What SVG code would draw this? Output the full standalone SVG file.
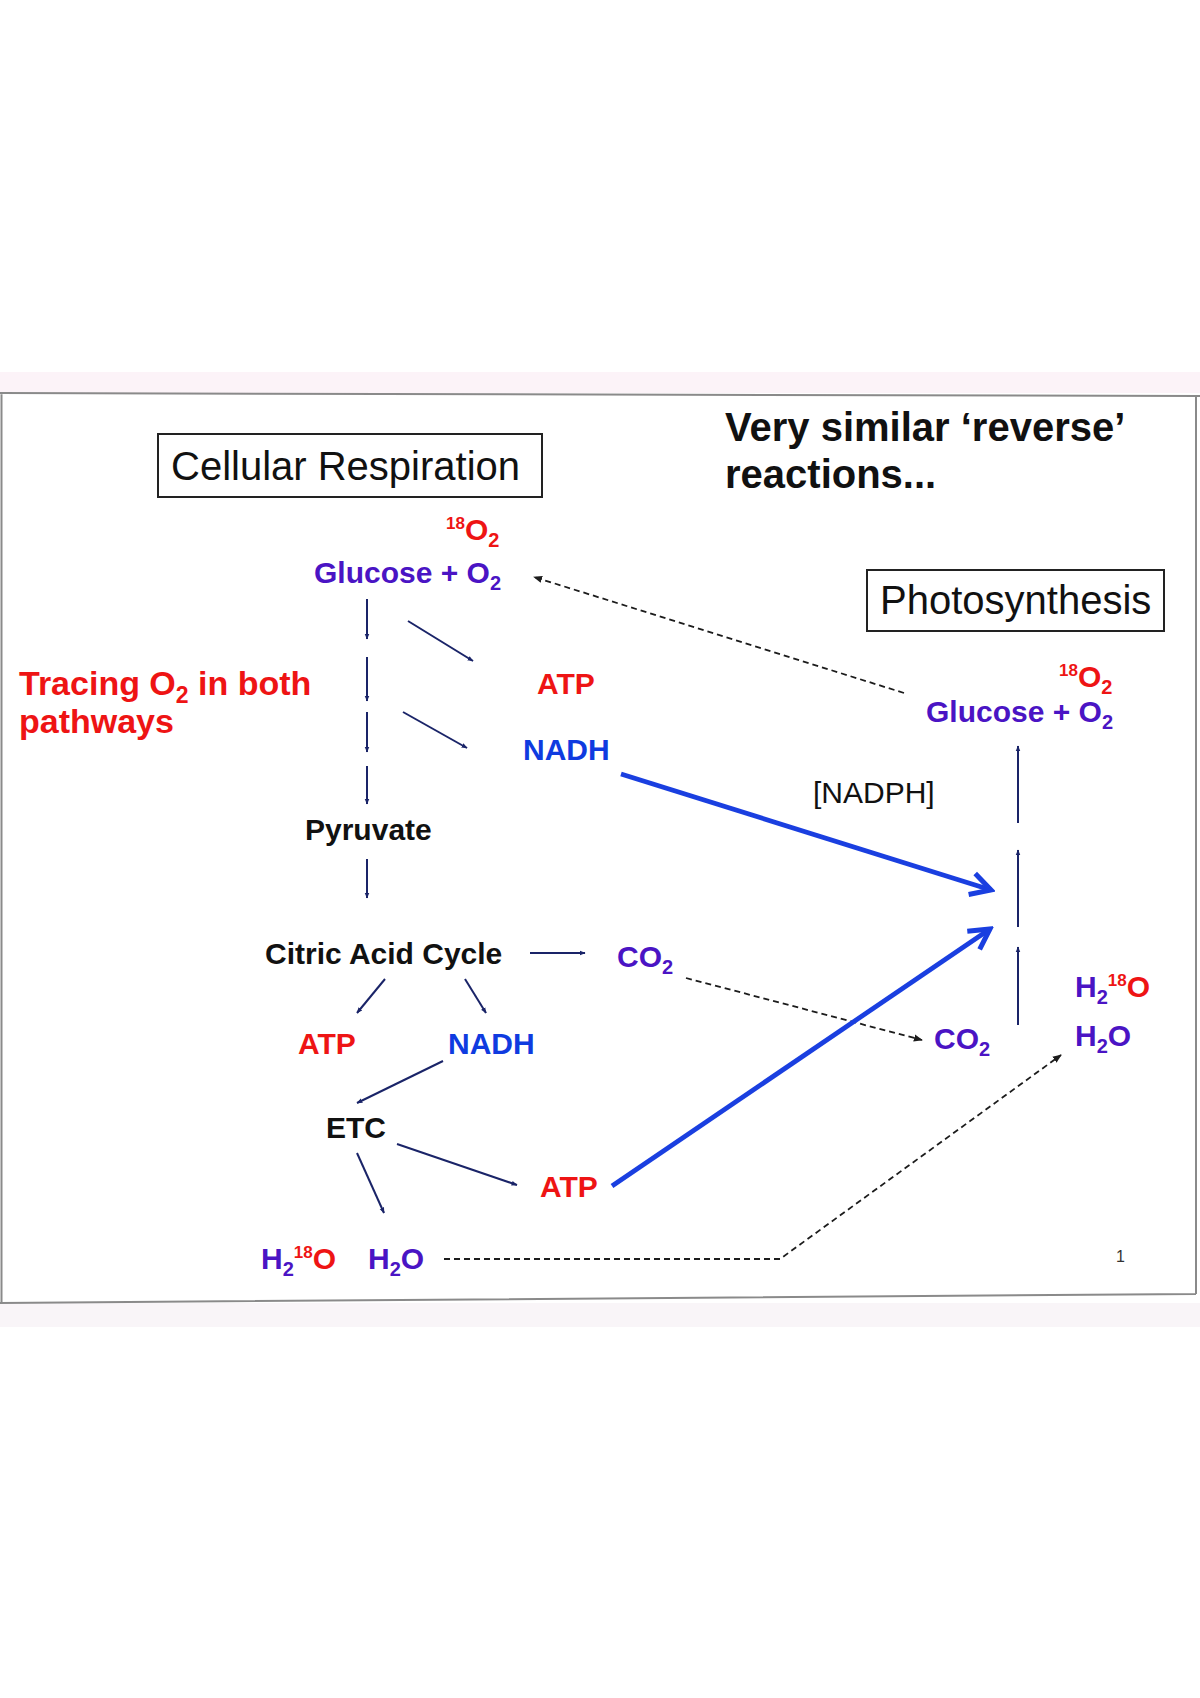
<svg xmlns="http://www.w3.org/2000/svg" width="1200" height="1698" viewBox="0 0 1200 1698">
<style>
text{font-family:"Liberation Sans",Arial,sans-serif}
.b{font-weight:bold}
.red{fill:#EE1414}
.pur{fill:#4A14C4}
.blu{fill:#0F3BE0}
.blk{fill:#111}
.thin{stroke:#1A2468;stroke-width:2;fill:none}
.dash{stroke:#1c1c1c;stroke-width:1.8;fill:none;stroke-dasharray:6 4}
.big{stroke:#1A3FE0;stroke-width:4.8;fill:none}
</style>
<defs>
<marker id="sm" viewBox="0 0 10 10" refX="9" refY="5" markerWidth="6" markerHeight="6" markerUnits="userSpaceOnUse" orient="auto"><path d="M0,1 L10,5 L0,9 z" fill="#1A2468"/></marker>
<marker id="dk" viewBox="0 0 10 10" refX="9" refY="5" markerWidth="9" markerHeight="9" markerUnits="userSpaceOnUse" orient="auto"><path d="M0,1 L10,5 L0,9 z" fill="#1c1c1c"/></marker>
<marker id="chev" viewBox="0 0 30 30" refX="26" refY="15" markerWidth="30" markerHeight="30" markerUnits="userSpaceOnUse" orient="auto"><path d="M6,4 L26,15 L6,26" fill="none" stroke="#1A3FE0" stroke-width="5"/></marker>
</defs>
<rect width="1200" height="1698" fill="#fff"/>
<g id="slide">
<rect x="0" y="372" width="1200" height="21" fill="#fcf3f8"/>
<rect x="0" y="1303" width="1200" height="24" fill="#f9f5f8"/>
<path d="M0,393 L1200,396 M1196,396 L1196,1294 M1196,1294 L0,1303 M1.5,393 L1.5,1303" stroke="#8a8a8a" stroke-width="2" fill="none"/>
</g>
<g id="connectors">
<line class="thin" x1="367" y1="599" x2="367" y2="639" marker-end="url(#sm)"/>
<line class="thin" x1="367" y1="657" x2="367" y2="701" marker-end="url(#sm)"/>
<line class="thin" x1="367" y1="712" x2="367" y2="752" marker-end="url(#sm)"/>
<line class="thin" x1="367" y1="766" x2="367" y2="804" marker-end="url(#sm)"/>
<line class="thin" x1="367" y1="859" x2="367" y2="898" marker-end="url(#sm)"/>
<line class="thin" x1="408" y1="621" x2="473" y2="661" marker-end="url(#sm)"/>
<line class="thin" x1="403" y1="712" x2="467" y2="748" marker-end="url(#sm)"/>
<line class="thin" x1="530" y1="953" x2="585" y2="953" marker-end="url(#sm)"/>
<line class="thin" x1="385" y1="979" x2="357" y2="1013" marker-end="url(#sm)"/>
<line class="thin" x1="465" y1="979" x2="486" y2="1013" marker-end="url(#sm)"/>
<line class="thin" x1="443" y1="1061" x2="357" y2="1103" marker-end="url(#sm)"/>
<line class="thin" x1="397" y1="1144" x2="517" y2="1185" marker-end="url(#sm)"/>
<line class="thin" x1="357" y1="1153" x2="384" y2="1213" marker-end="url(#sm)"/>
<line class="thin" x1="1018" y1="823" x2="1018" y2="746" marker-end="url(#sm)"/>
<line class="thin" x1="1018" y1="927" x2="1018" y2="850" marker-end="url(#sm)"/>
<line class="thin" x1="1018" y1="1025" x2="1018" y2="947" marker-end="url(#sm)"/>
<line class="dash" x1="904" y1="693" x2="534" y2="577" marker-end="url(#dk)"/>
<line class="dash" x1="686" y1="978" x2="922" y2="1040" marker-end="url(#dk)"/>
<polyline class="dash" points="444,1259 780,1259 1061,1055" marker-end="url(#dk)"/>
<line class="big" x1="621" y1="774" x2="991" y2="890" marker-end="url(#chev)"/>
<line class="big" x1="612" y1="1186" x2="990" y2="929" marker-end="url(#chev)"/>
</g>
<g id="title-cr">
<rect x="158" y="434" width="384" height="63" fill="none" stroke="#222" stroke-width="2"/>
<text x="171" y="480" font-size="40" class="blk">Cellular Respiration</text>
</g>
<g id="title-main">
<text x="725" y="441" font-size="40" class="b blk">Very similar ‘reverse’</text>
<text x="725" y="488" font-size="40" class="b blk">reactions...</text>
</g>
<g id="title-ps">
<rect x="867" y="570" width="297" height="61" fill="none" stroke="#222" stroke-width="2"/>
<text x="880" y="614" font-size="40" class="blk">Photosynthesis</text>
</g>
<g id="tracing">
<text x="19" y="695" font-size="34" class="b red">Tracing O<tspan font-size="23" dy="8">2</tspan><tspan dy="-8"> in both</tspan></text>
<text x="19" y="733" font-size="34" class="b red">pathways</text>
</g>
<g id="o18-left">
<text x="446" y="540" font-size="30" class="b red"><tspan font-size="17" dy="-11">18</tspan><tspan dy="11">O</tspan><tspan font-size="20" dy="7">2</tspan></text>
</g>
<g id="glucose-left">
<text x="314" y="583" font-size="30" class="b pur">Glucose + O<tspan font-size="20" dy="7">2</tspan></text>
</g>
<g id="atp1"><text x="537" y="694" font-size="30" class="b red">ATP</text></g>
<g id="nadh1"><text x="523" y="760" font-size="30" class="b blu">NADH</text></g>
<g id="pyruvate"><text x="305" y="840" font-size="30" class="b blk">Pyruvate</text></g>
<g id="cac"><text x="265" y="964" font-size="30" class="b blk">Citric Acid Cycle</text></g>
<g id="co2-left"><text x="617" y="967" font-size="30" class="b pur">CO<tspan font-size="20" dy="7">2</tspan></text></g>
<g id="atp2"><text x="298" y="1054" font-size="30" class="b red">ATP</text></g>
<g id="nadh2"><text x="448" y="1054" font-size="30" class="b blu">NADH</text></g>
<g id="etc"><text x="326" y="1138" font-size="30" class="b blk">ETC</text></g>
<g id="atp3"><text x="540" y="1197" font-size="30" class="b red">ATP</text></g>
<g id="water-left">
<text x="261" y="1269" font-size="30" class="b pur">H<tspan font-size="20" dy="7">2</tspan><tspan font-size="17" dy="-18" class="red">18</tspan><tspan dy="11" class="red">O</tspan></text>
<text x="368" y="1269" font-size="30" class="b pur">H<tspan font-size="20" dy="7">2</tspan><tspan dy="-7">O</tspan></text>
</g>
<g id="nadph"><text x="813" y="803" font-size="30" class="blk">[NADPH]</text></g>
<g id="o18-right">
<text x="1059" y="687" font-size="30" class="b red"><tspan font-size="17" dy="-11">18</tspan><tspan dy="11">O</tspan><tspan font-size="20" dy="7">2</tspan></text>
</g>
<g id="glucose-right">
<text x="926" y="722" font-size="30" class="b pur">Glucose + O<tspan font-size="20" dy="7">2</tspan></text>
</g>
<g id="co2-right"><text x="934" y="1049" font-size="30" class="b pur">CO<tspan font-size="20" dy="7">2</tspan></text></g>
<g id="water-right">
<text x="1075" y="997" font-size="30" class="b pur">H<tspan font-size="20" dy="7">2</tspan><tspan font-size="17" dy="-18" class="red">18</tspan><tspan dy="11" class="red">O</tspan></text>
<text x="1075" y="1046" font-size="30" class="b pur">H<tspan font-size="20" dy="7">2</tspan><tspan dy="-7">O</tspan></text>
</g>
<g id="page"><text x="1116" y="1262" font-size="16" fill="#333">1</text></g>
</svg>
